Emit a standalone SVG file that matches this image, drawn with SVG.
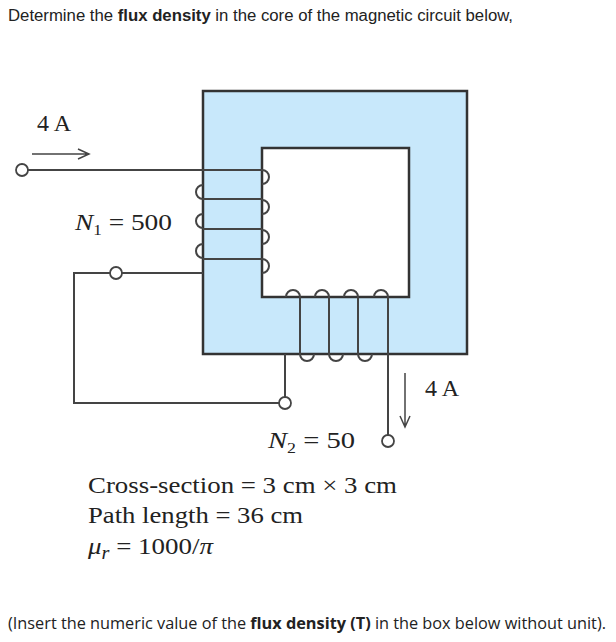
<svg xmlns="http://www.w3.org/2000/svg" width="616" height="642" viewBox="0 0 616 642">
<style>
.w{fill:none;stroke:#444;stroke-width:2}
.t{fill:#fff;stroke:#444;stroke-width:1.8}
.s{font-family:"Liberation Serif",serif;font-size:24px;fill:#222}
</style>
<rect width="616" height="642" fill="#fff"/>
<text x="8" y="21" font-family="Liberation Sans,sans-serif" font-size="16" fill="#222" textLength="505" lengthAdjust="spacingAndGlyphs">Determine the <tspan font-weight="bold">flux density</tspan> in the core of the magnetic circuit below,</text>
<g id="core">
<rect x="203" y="91" width="264" height="263" fill="#c8e8fb" stroke="#333" stroke-width="2.5"/>
<rect x="262" y="148" width="147" height="149" fill="#fff" stroke="#333" stroke-width="2.5"/>
</g>
<g id="connectors">
<path class="w" d="M28 170H262M203 199H262M203 229H262M203 259H262"/>
<path class="w" d="M262 170a7 7 0 0 1 0 14M262 200a7 7 0 0 1 0 14M262 230a7 7 0 0 1 0 14M262 259a7 7 0 0 1 0 14"/>
<path class="w" d="M203 199a7 7 0 0 1 0 -14M203 228a7 7 0 0 1 0 -14M203 258a7 7 0 0 1 0 -14"/>
<path class="w" d="M203 273H122M110 273H74V403H279M285 397V354"/>
<path class="w" d="M300 297V354M329 297V354M358 297V354M388 297V435"/>
<path class="w" d="M286 297a7 7 0 0 1 14 0M315 297a7 7 0 0 1 14 0M344 297a7 7 0 0 1 14 0M374 297a7 7 0 0 1 14 0"/>
<path class="w" d="M300 354a7 7 0 0 0 14 0M329 354a7 7 0 0 0 14 0M358 354a7 7 0 0 0 14 0"/>
<path fill="none" stroke="#444" stroke-width="1.5" d="M32 154H88M78 149L89 154L78 159"/>
<path fill="none" stroke="#444" stroke-width="1.5" d="M405 373V426M400 416L405 427L410 416"/>
</g>
<g id="terminals">
<circle class="t" cx="22" cy="170" r="6"/>
<circle class="t" cx="116" cy="273" r="6"/>
<circle class="t" cx="285" cy="403" r="6"/>
<circle class="t" cx="388" cy="441" r="6"/>
</g>
<g id="labels">
<text class="s" x="37" y="131">4 A</text>
<text class="s" x="75" y="230" font-size="25" textLength="97" lengthAdjust="spacingAndGlyphs"><tspan font-style="italic">N</tspan><tspan font-size="15" dy="5">1</tspan><tspan dy="-5"> = 500</tspan></text>
<text class="s" x="425" y="396">4 A</text>
<text class="s" x="268" y="448" font-size="25" textLength="87" lengthAdjust="spacingAndGlyphs"><tspan font-style="italic">N</tspan><tspan font-size="15" dy="5">2</tspan><tspan dy="-5"> =  50</tspan></text>
<text class="s" x="88" y="493" font-size="28" textLength="309" lengthAdjust="spacingAndGlyphs">Cross-section = 3 cm × 3 cm</text>
<text class="s" x="88" y="523" font-size="28" textLength="215" lengthAdjust="spacingAndGlyphs">Path length = 36 cm</text>
<text class="s" x="88" y="554" font-size="28" textLength="125" lengthAdjust="spacingAndGlyphs"><tspan font-style="italic">μ</tspan><tspan font-size="18" dy="5" font-style="italic">r</tspan><tspan dy="-5"> = 1000/</tspan><tspan font-style="italic">π</tspan></text>
</g>
<text x="8" y="629" font-family="Open Sans,sans-serif" font-size="16" fill="#222" textLength="598" lengthAdjust="spacingAndGlyphs">(Insert the numeric value of the <tspan font-weight="bold">flux density (T)</tspan> in the box below without unit).</text>
</svg>
